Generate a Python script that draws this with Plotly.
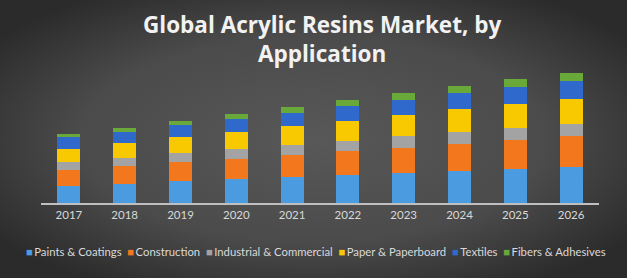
import base64
import plotly.graph_objects as go

years = ["2017", "2018", "2019", "2020", "2021", "2022", "2023", "2024", "2025", "2026"]
paints = [17.3, 19.3, 22.0, 24.0, 26.0, 28.0, 30.0, 32.3, 34.3, 36.0]
construction = [16.0, 18.0, 19.3, 20.0, 22.0, 24.0, 25.3, 27.0, 29.0, 31.3]
industrial = [8.0, 8.0, 8.7, 10.0, 10.0, 10.0, 12.0, 12.0, 12.0, 12.0]
paper = [12.7, 15.0, 15.7, 17.3, 19.3, 20.3, 20.7, 22.4, 24.0, 25.0]
textiles = [11.7, 11.0, 12.3, 12.7, 12.7, 14.7, 15.3, 16.0, 16.7, 17.7]
fibers = [3.3, 3.7, 4.0, 5.0, 6.0, 6.0, 6.7, 7.3, 8.0, 8.0]

series = [
    ("Paints & Coatings", paints, "#4a9be0"),
    ("Construction", construction, "#f3771c"),
    ("Industrial & Commercial", industrial, "#a3a3a3"),
    ("Paper & Paperboard", paper, "#f8c800"),
    ("Textiles", textiles, "#2f69cc"),
    ("Fibers & Adhesives", fibers, "#68a93a"),
]

fig = go.Figure()
for name, vals, col in series:
    fig.add_trace(go.Bar(x=years, y=vals, name=name,
                         marker=dict(color=col, line=dict(width=0))))

# Background radial gradient (style only)
svg = ('<svg xmlns="http://www.w3.org/2000/svg" width="627" height="278">'
       '<defs><radialGradient id="g" cx="50%" cy="50%" r="62%">'
       '<stop offset="0%" stop-color="#585858"/>'
       '<stop offset="60%" stop-color="#4b4b4b"/>'
       '<stop offset="100%" stop-color="#2b2b2b"/>'
       '</radialGradient></defs>'
       '<rect width="627" height="278" fill="url(#g)"/></svg>')
src = "data:image/svg+xml;base64," + base64.b64encode(svg.encode()).decode()

L, R, T, B = 41, 28, 63, 75
PW, PH = 627 - L - R, 278 - T - B

def px_x(x):
    return (x - L) / PW

def px_y(y):
    return (278 - B - y) / PH

# Legend built as a single line of text with coloured squares
gap = "\u00a0\u00a0"
legend_text = gap.join(
    f'<span style="color:{col}">■</span>\u2009{name}' for name, _, col in series
)

fig.update_layout(
    width=627, height=278,
    barmode="stack", bargap=0.59,
    paper_bgcolor="#3a3a3a", plot_bgcolor="rgba(0,0,0,0)",
    margin=dict(l=L, r=R, t=T, b=B, autoexpand=False),
    images=[dict(source=src, xref="paper", yref="paper", x=px_x(0), y=px_y(0),
                 sizex=627 / PW, sizey=278 / PH, xanchor="left", yanchor="top",
                 sizing="stretch", layer="below")],
    annotations=[
        dict(text="<b>Global Acrylic Resins Market, by<br>Application</b>",
             xref="paper", yref="paper", x=px_x(322), y=px_y(7),
             xanchor="center", yanchor="top", showarrow=False,
             font=dict(family="Open Sans", size=22.5, color="#f2f2f2")),
        dict(text=legend_text, xref="paper", yref="paper",
             x=px_x(315.5), y=px_y(251), xanchor="center", yanchor="middle",
             showarrow=False,
             font=dict(family="Lato", size=11.3, color="#d9d9d9")),
    ],
    xaxis=dict(showline=True, linecolor="#bfbfbf", linewidth=1.5,
               ticks="", tickfont=dict(family="Lato", size=11.5, color="#d9d9d9"),
               showgrid=False),
    yaxis=dict(range=[0, PH], visible=False, showgrid=False),
    showlegend=False,
)

fig.write_html("out.html")
